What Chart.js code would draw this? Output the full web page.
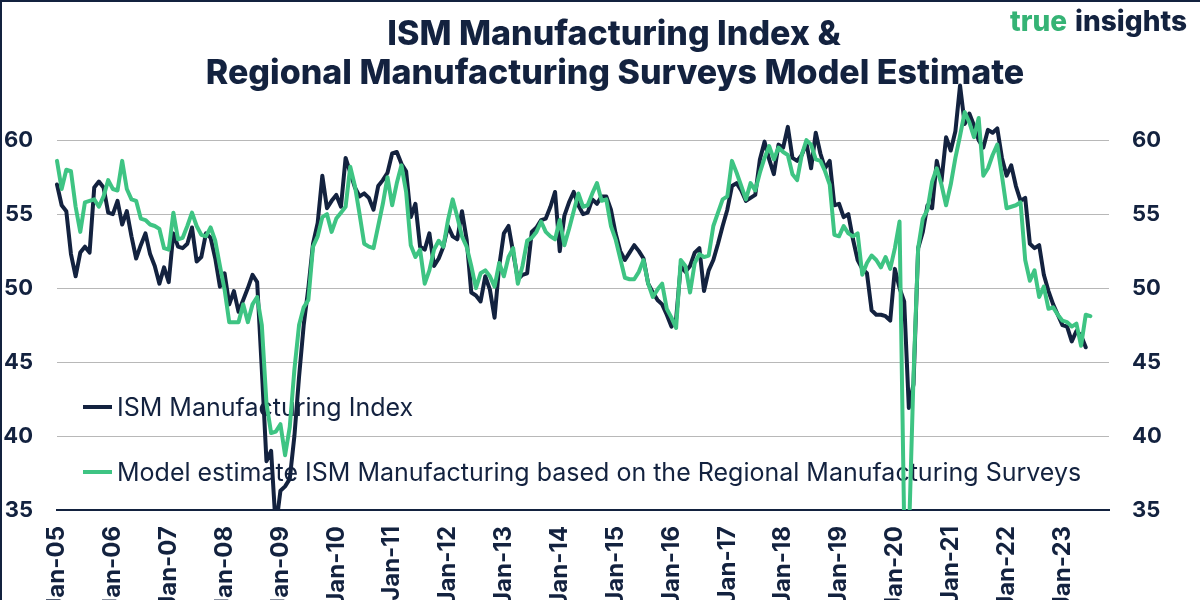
<!DOCTYPE html>
<html>
<head>
<meta charset="utf-8">
<title>ISM Manufacturing Index &amp; Regional Manufacturing Surveys Model Estimate</title>
<script src="https://cdn.jsdelivr.net/npm/chart.js@4.4.1/dist/chart.umd.min.js"></script>
<style>
    html, body { margin: 0; padding: 0; width: 1200px; height: 600px; overflow: hidden; background: #fff; }
    #wrap { position: absolute; left: 0; top: 0; width: 1200px; height: 700px; }
    #frame { position: absolute; left: 0; top: 0; width: 1200px; height: 600px; box-sizing: border-box;
             border-left: 2px solid #13223f; border-top: 2px solid #13223f; pointer-events: none; }
</style>
</head>
<body>
<div id="wrap"><canvas id="ismChart"></canvas></div>
<div id="frame"></div>
<script>
const navy = '#13223f';
const green = '#3ec483';
const logoGreen = '#35b375';

const titleLines = ['ISM Manufacturing Index &', 'Regional Manufacturing Surveys Model Estimate'];
const seriesNames = ['ISM Manufacturing Index', 'Model estimate ISM Manufacturing based on the Regional Manufacturing Surveys'];

// categories: Jan-05 .. Nov-23
const years = ['05', '06', '07', '08', '09', '10', '11', '12', '13', '14', '15', '16', '17', '18', '19', '20', '21', '22', '23'];
const monthNames = ['Jan', 'Feb', 'Mar', 'Apr', 'May', 'Jun', 'Jul', 'Aug', 'Sep', 'Oct', 'Nov', 'Dec'];
const monthCount = 227;

// ISM Manufacturing PMI, Jan 2005 - Jun 2023
const ismIndex = [
    57.0, 55.6, 55.2, 52.3, 50.8, 52.4, 52.8, 52.4, 56.8, 57.2, 56.8, 55.1,
    55.0, 55.9, 54.3, 55.2, 53.5, 52.0, 52.9, 53.7, 52.3, 51.5, 50.3, 51.4,
    50.4, 53.7, 52.8, 52.7, 53.0, 54.1, 51.8, 52.1, 53.7, 53.4, 52.0, 50.1,
    51.0, 48.9, 49.8, 48.4, 49.2, 50.0, 50.9, 50.4, 44.5, 38.3, 39.0, 33.8,
    36.3, 36.6, 37.1, 40.0, 44.0, 47.5, 50.0, 53.0, 54.4, 57.6, 55.4, 55.9,
    56.3, 55.5, 58.8, 57.8, 56.8, 56.2, 56.4, 56.1, 55.3, 56.9, 57.3, 57.8,
    59.1, 59.2, 58.4, 57.9, 54.8, 55.7, 52.8, 52.6, 53.7, 51.5, 52.0, 52.8,
    54.2, 53.5, 53.3, 55.2, 53.3, 49.7, 49.5, 49.1, 50.8, 49.9, 48.0, 51.5,
    53.7, 54.2, 52.4, 50.6, 50.9, 51.0, 53.8, 54.1, 54.6, 54.7, 55.5, 56.5,
    52.5, 54.9, 55.8, 56.5, 55.6, 55.0, 55.1, 56.0, 55.7, 56.2, 56.2, 55.3,
    53.7, 52.5, 51.9, 52.4, 52.9, 52.5, 52.0, 50.3, 49.7, 49.2, 48.9, 48.2,
    47.4, 47.9, 51.5, 51.1, 51.5, 52.4, 52.7, 49.8, 51.2, 51.9, 53.0, 54.2,
    55.3, 56.9, 57.1, 56.6, 55.9, 56.1, 56.3, 58.7, 59.9, 58.7, 57.7, 59.7,
    59.5, 60.9, 58.8, 58.6, 59.0, 59.8, 58.1, 60.5, 59.1, 58.1, 58.6, 55.6,
    55.7, 54.8, 55.0, 53.3, 51.9, 51.3, 51.0, 48.5, 48.2, 48.2, 48.1, 47.8,
    51.3, 50.0, 49.1, 41.9, 43.5, 52.7, 53.8, 55.6, 55.4, 58.6, 57.2, 60.2,
    59.3, 60.6, 63.7, 61.1, 61.8, 61.0, 60.0, 59.5, 60.7, 60.5, 60.8, 58.8,
    57.6, 58.3, 56.9, 55.9, 56.1, 53.0, 52.7, 52.9, 50.9, 49.8, 48.9, 48.2,
    47.5, 47.4, 46.4, 47.1, 46.8, 46.0
];

// model estimate from the regional surveys, Jan 2005 - Jul 2023
const modelEstimate = [
    58.6, 56.7, 58.0, 57.9, 55.5, 53.8, 55.8, 55.9, 56.0, 55.5, 56.2, 57.3,
    56.7, 56.6, 58.6, 56.7, 56.0, 55.9, 54.7, 54.6, 54.3, 54.2, 54.0, 52.7,
    52.6, 55.1, 53.3, 53.4, 54.2, 55.1, 54.2, 53.6, 53.5, 54.1, 53.2, 51.5,
    49.9, 47.7, 47.7, 47.7, 48.9, 47.7, 48.9, 49.4, 47.5, 42.2, 40.2, 40.3,
    40.8, 38.7, 40.6, 44.5, 47.5, 48.7, 49.2, 52.8, 53.5, 54.8, 55.0, 53.8,
    54.7, 55.1, 55.5, 58.2, 56.9, 55.0, 53.0, 52.8, 52.7, 54.2, 55.7, 57.5,
    55.6, 57.1, 58.3, 56.5, 52.9, 52.1, 52.6, 50.3, 51.2, 52.6, 53.2, 52.8,
    54.6, 56.0, 54.8, 53.5, 52.8, 51.5, 50.0, 51.0, 51.2, 50.8, 50.1, 51.7,
    50.8, 52.1, 52.7, 50.3, 51.5, 53.2, 53.4, 53.8, 54.5, 53.8, 53.5, 53.3,
    54.6, 52.9, 54.0, 55.2, 56.4, 55.5, 55.6, 56.4, 57.1, 55.9, 56.0, 54.2,
    53.3, 52.0, 50.7, 50.6, 50.6, 51.1, 51.9, 50.3, 49.4, 49.9, 50.3, 48.6,
    48.0, 47.3, 51.9, 51.5, 49.7, 51.7, 52.3, 52.1, 52.2, 54.2, 55.1, 56.0,
    56.2, 58.6, 57.8, 56.9, 56.0, 57.1, 56.6, 57.8, 58.8, 59.6, 58.7, 59.5,
    59.2, 59.0, 57.7, 57.3, 59.0, 60.0, 59.7, 58.7, 58.6, 57.9, 57.0, 53.6,
    53.5, 54.2, 53.7, 53.5, 53.7, 50.9, 51.7, 52.2, 51.9, 51.4, 52.1, 51.3,
    52.7, 54.5, 34.0, 33.0, 44.0, 52.7, 54.7, 55.3, 57.2, 58.1, 57.0, 55.6,
    57.0, 58.8, 60.3, 61.9, 61.2, 60.2, 61.5, 57.6, 58.1, 59.0, 59.7, 57.6,
    55.4, 55.5, 55.6, 55.8, 51.9, 50.5, 51.2, 49.4, 50.1, 48.6, 48.7, 48.2,
    47.8, 47.7, 47.4, 47.6, 46.1, 48.2, 48.1
];

const yMin = 35;
const yMax = 64;
const yStep = 5;

const labels = [];
years.forEach(y => monthNames.forEach(m => labels.push(m + '-' + y)));
labels.length = monthCount;

// title, logo and the in-plot legend
const chartText = {
    id: 'chartText',
    beforeDatasetsDraw(chart) {
        const { ctx, chartArea } = chart;
        ctx.save();
        ctx.fillStyle = navy;
        ctx.textAlign = 'center';
        ctx.textBaseline = 'alphabetic';
        ctx.font = '800 34px Inter';
        ctx.fillText(titleLines[0], 614, 45, 460);
        ctx.fillText(titleLines[1], 615, 84, 822);

        ctx.textAlign = 'left';
        ctx.font = '800 28px Inter';
        ctx.fillStyle = logoGreen;
        ctx.fillText('true', 1010, 31);
        const w = ctx.measureText('true').width;
        ctx.fillStyle = navy;
        const x2 = 1010 + w + 8;
        ctx.fillText('insights', x2, 31, 1190 - x2);

        ctx.font = '400 25px Inter';
        ctx.textBaseline = 'middle';
        const rows = [407, 472];
        seriesNames.forEach((name, i) => {
            const ds = chart.data.datasets.find(d => d.label === name);
            const x0 = chartArea.left + 26;
            ctx.strokeStyle = ds.borderColor;
            ctx.lineWidth = 4;
            ctx.beginPath();
            ctx.moveTo(x0, rows[i]);
            ctx.lineTo(x0 + 29, rows[i]);
            ctx.stroke();
            ctx.fillStyle = navy;
            ctx.fillText(name, x0 + 34, rows[i] + 1, 970);
        });
        ctx.restore();
    }
};

const tickFont = { family: 'Inter', size: 22, weight: '700' };
const keepFives = scale => { scale.ticks = scale.ticks.filter(t => t.value % yStep === 0); };

new Chart(document.getElementById('ismChart'), {
    type: 'line',
    data: {
        labels: labels,
        datasets: [
            {
                label: seriesNames[1],
                data: modelEstimate,
                borderColor: green,
                borderWidth: 4,
                pointRadius: 0,
                tension: 0,
                borderJoinStyle: 'round',
                borderCapStyle: 'round',
                order: 0
            },
            {
                label: seriesNames[0],
                data: ismIndex,
                borderColor: navy,
                borderWidth: 4,
                pointRadius: 0,
                tension: 0,
                borderJoinStyle: 'round',
                borderCapStyle: 'round',
                order: 1
            }
        ]
    },
    options: {
        responsive: true,
        maintainAspectRatio: false,
        animation: false,
        layout: { padding: { top: 81, left: 0, right: 0, bottom: 0 } },
        plugins: {
            legend: { display: false },
            tooltip: { enabled: false },
            title: { display: false }
        },
        scales: {
            x: {
                type: 'category',
                offset: false,
                grid: { display: false, drawTicks: false },
                border: { display: true, color: navy, width: 2 },
                ticks: {
                    autoSkip: false,
                    minRotation: 90,
                    maxRotation: 90,
                    padding: 16,
                    color: navy,
                    font: { family: 'Inter', size: 24, weight: '700' },
                    callback: function (value, index) {
                        return index % 12 === 0 ? this.getLabelForValue(value) : null;
                    }
                },
                afterFit(scale) { scale.height = 190; }
            },
            y: {
                position: 'left',
                min: yMin,
                max: yMax,
                grid: { color: '#b8b8b8', lineWidth: 1, drawTicks: false },
                border: { display: false },
                ticks: { stepSize: yStep, padding: 24, color: navy, font: tickFont },
                afterBuildTicks: keepFives,
                afterFit(scale) { scale.width = 57; }
            },
            y2: {
                position: 'right',
                min: yMin,
                max: yMax,
                grid: { display: false, drawTicks: false },
                border: { display: false },
                ticks: { stepSize: yStep, padding: 23, color: navy, font: tickFont },
                afterBuildTicks: keepFives,
                afterFit(scale) { scale.width = 91; }
            }
        }
    },
    plugins: [chartText]
});
</script>
</body>
</html>
